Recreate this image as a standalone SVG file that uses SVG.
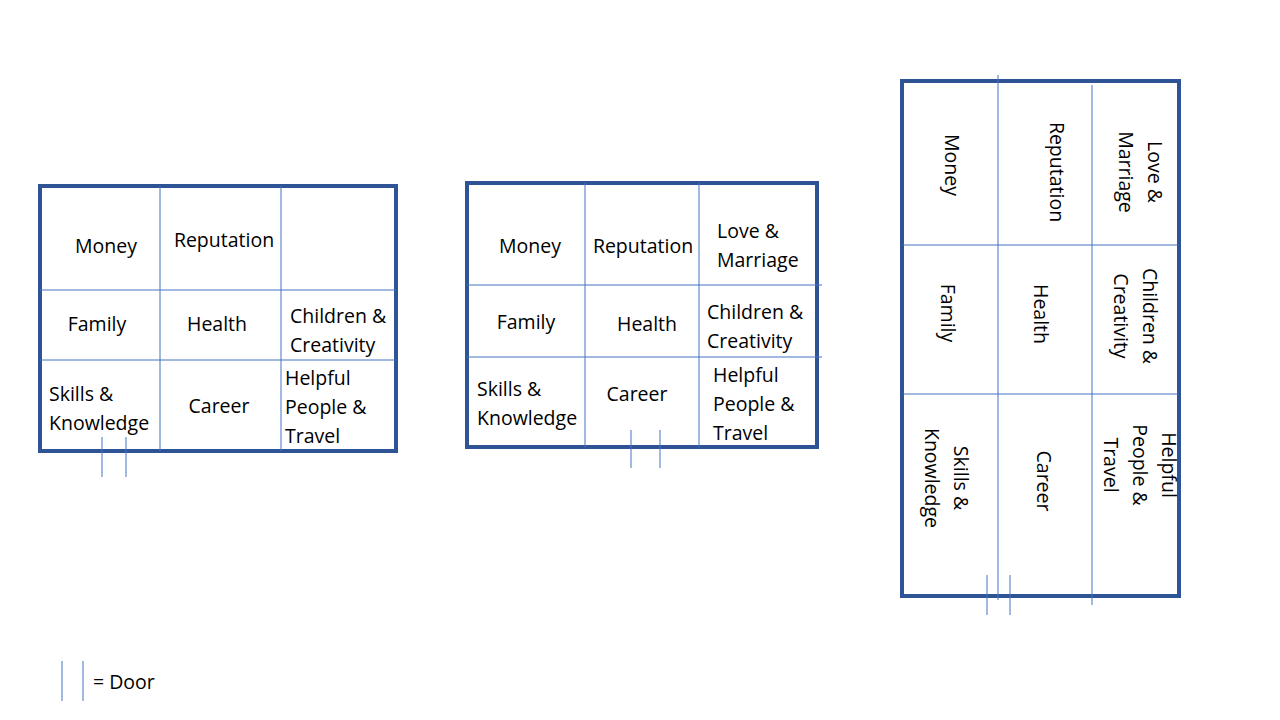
<svg xmlns="http://www.w3.org/2000/svg" width="1280" height="720" viewBox="0 0 1280 720">
<style>
.b{fill:none;stroke:#2F5496;stroke-width:4}
.l{stroke:#4472C4;stroke-width:1}
text{font-family:"Open Sans","Liberation Sans",sans-serif;font-size:19.5px;fill:#000}
.m{text-anchor:middle}
</style>
<rect width="1280" height="720" fill="#fff"/>
<g id="room1">
<rect class="b" x="40" y="186" width="356" height="265"/>
<line class="l" x1="160" y1="186" x2="160" y2="451"/>
<line class="l" x1="281" y1="186" x2="281" y2="451"/>
<line class="l" x1="40" y1="290" x2="396" y2="290"/>
<line class="l" x1="40" y1="360" x2="396" y2="360"/>
<line class="l" x1="102" y1="437" x2="102" y2="477"/>
<line class="l" x1="126" y1="437" x2="126" y2="477"/>
<text class="m" x="106" y="253">Money</text>
<text class="m" x="224" y="247">Reputation</text>
<text class="m" x="97" y="331">Family</text>
<text class="m" x="217" y="331">Health</text>
<text x="290" y="323">Children &amp;<tspan x="290" dy="29">Creativity</tspan></text>
<text x="49" y="401">Skills &amp;<tspan x="49" dy="29">Knowledge</tspan></text>
<text class="m" x="219" y="413">Career</text>
<text x="285" y="385">Helpful<tspan x="285" dy="29">People &amp;</tspan><tspan x="285" dy="29">Travel</tspan></text>
</g>
<g id="room2">
<rect class="b" x="467" y="183" width="350" height="264"/>
<line class="l" x1="585" y1="183" x2="585" y2="447"/>
<line class="l" x1="699" y1="183" x2="699" y2="447"/>
<line class="l" x1="467" y1="285" x2="822" y2="285"/>
<line class="l" x1="467" y1="357" x2="822" y2="357"/>
<line class="l" x1="631" y1="430" x2="631" y2="468"/>
<line class="l" x1="660" y1="430" x2="660" y2="468"/>
<text class="m" x="530" y="253">Money</text>
<text class="m" x="643" y="253">Reputation</text>
<text x="717" y="238">Love &amp;<tspan x="717" dy="29">Marriage</tspan></text>
<text class="m" x="526" y="329">Family</text>
<text class="m" x="647" y="331">Health</text>
<text x="707" y="319">Children &amp;<tspan x="707" dy="29">Creativity</tspan></text>
<text x="477" y="396">Skills &amp;<tspan x="477" dy="29">Knowledge</tspan></text>
<text class="m" x="637" y="401">Career</text>
<text x="713" y="382">Helpful<tspan x="713" dy="29">People &amp;</tspan><tspan x="713" dy="29">Travel</tspan></text>
</g>
<g id="room3">
<rect class="b" x="902" y="81" width="277" height="515"/>
<line class="l" x1="998" y1="75" x2="998" y2="600"/>
<line class="l" x1="1092" y1="85" x2="1092" y2="605"/>
<line class="l" x1="903" y1="245" x2="1178" y2="245"/>
<line class="l" x1="903" y1="394" x2="1178" y2="394"/>
<line class="l" x1="987" y1="575" x2="987" y2="615"/>
<line class="l" x1="1010" y1="575" x2="1010" y2="615"/>
<text class="m" transform="rotate(90 952 165)" x="952" y="172">Money</text>
<text class="m" transform="rotate(90 1057 172)" x="1057" y="179">Reputation</text>
<text class="m" transform="rotate(90 1140 172)" x="1140" y="164.5">Love &amp;<tspan x="1140" dy="29">Marriage</tspan></text>
<text class="m" transform="rotate(90 948 313)" x="948" y="320">Family</text>
<text class="m" transform="rotate(90 1041 314)" x="1041" y="321">Health</text>
<text class="m" transform="rotate(90 1135 316)" x="1135" y="308.5">Children &amp;<tspan x="1135" dy="29">Creativity</tspan></text>
<text class="m" transform="rotate(90 946 478)" x="946" y="470.5">Skills &amp;<tspan x="946" dy="29">Knowledge</tspan></text>
<text class="m" transform="rotate(90 1044 481)" x="1044" y="488">Career</text>
<text class="m" transform="rotate(90 1140 465)" x="1140" y="443">Helpful<tspan x="1140" dy="29">People &amp;</tspan><tspan x="1140" dy="29">Travel</tspan></text>
</g>
<g id="legend">
<line class="l" x1="62" y1="661" x2="62" y2="701"/>
<line class="l" x1="83" y1="661" x2="83" y2="701"/>
<text x="93" y="689">= Door</text>
</g>
</svg>
